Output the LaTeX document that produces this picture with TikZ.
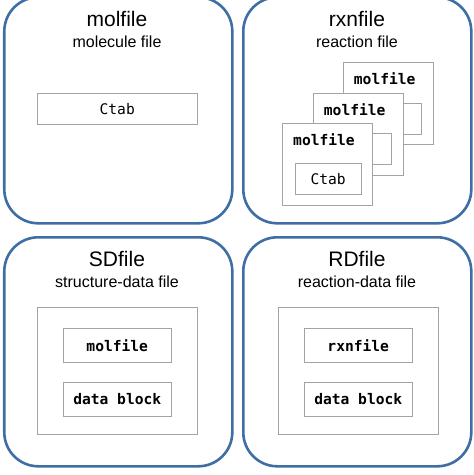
\documentclass[tikz,border=0pt]{standalone}
\usepackage{fontspec}
\setmainfont{Liberation Sans}
\setmonofont{DejaVu Sans Mono}
\usepackage{xcolor}
\usetikzlibrary{positioning}
\definecolor{fblue}{HTML}{3F6EA5}
\definecolor{fgray}{HTML}{A3A3A3}

\tikzset{
  panel/.style={draw=fblue, line width=2.6pt, rounded corners=34pt, fill=white, anchor=north west, inner sep=0pt},
  part/.style={draw=fgray, line width=1.1pt, fill=white, anchor=north west, inner sep=0pt},
  ftitle/.style={font=\fontsize{21}{21}\selectfont, anchor=base},
  fsub/.style={font=\fontsize{16}{16}\selectfont, anchor=base},
  code/.style={font=\ttfamily\bfseries\fontsize{14.6}{14.6}\selectfont},
  plaincode/.style={font=\ttfamily\fontsize{14.6}{14.6}\selectfont},
}

\begin{document}
\begin{tikzpicture}[x=1pt, y=-1pt]

  \useasboundingbox (0,0) rectangle (474,475);

  %% four panels
  \node[panel, minimum width=228pt, minimum height=226pt] (molpanel) at (3,-4) {};
  \node[panel, minimum width=228pt, minimum height=226pt] (rxnpanel) at (242,-4) {};
  \node[panel, minimum width=228pt, minimum height=229pt] (sdpanel) at (3,236) {};
  \node[panel, minimum width=228pt, minimum height=229pt] (rdpanel) at (242,236) {};

  %% titles
  \foreach \x/\y/\nm/\desc/\id in {117/26.7/molfile/molecule file/mol, 357/26.7/rxnfile/reaction file/rxn,
                                   117/266.3/SDfile/structure-data file/sd, 357/266.3/RDfile/reaction-data file/rd}{
    \node[ftitle] (\id title) at (\x,\y) {\nm};
    \node[fsub] (\id sub) at (\x,\y+21.2) {\desc};
  }

  %% molfile
  \node[part, plaincode, minimum width=160pt, minimum height=31.3pt] (molctab) at (36.7,92.7) {Ctab};

  %% rxnfile: stacked molfiles
  \foreach \i/\x/\y in {1/343/62.3, 2/313/92.7}{
    \node[part, minimum width=90pt, minimum height=82pt] (rxnmol\i) at (\x,\y) {};
    \node[part, minimum width=66pt, minimum height=31.3pt] (rxntab\i) at (\x+12.3,\y+40.3) {};
    \node[code, anchor=base west] (rxnlab\i) at (\x+7.4,\y+22.3) {molfile};
  }
  \node[part, minimum width=90pt, minimum height=82pt] (rxnmol3) at (282.3,122.7) {};
  \node[part, plaincode, minimum width=66pt, minimum height=31.3pt] (rxntab3) at (294.6,163) {Ctab};
  \node[code, anchor=base west] (rxnlab3) at (289.7,145) {molfile};

  %% SDfile
  \node[part, minimum width=160pt, minimum height=127.3pt] (sdbox) at (36.7,307) {};
  \node[part, code, minimum width=108pt, minimum height=34pt] (sdmol) at (62.7,327.7) {molfile};
  \node[part, code, minimum width=108pt, minimum height=34pt] (sddata) at (62.7,381.7) {data block};

  %% RDfile
  \node[part, minimum width=160pt, minimum height=127.3pt] (rdbox) at (277.7,307) {};
  \node[part, code, minimum width=108pt, minimum height=34pt] (rdrxn) at (303.7,327.7) {rxnfile};
  \node[part, code, minimum width=108pt, minimum height=34pt] (rddata) at (303.7,381.7) {data block};

\end{tikzpicture}
\end{document}
